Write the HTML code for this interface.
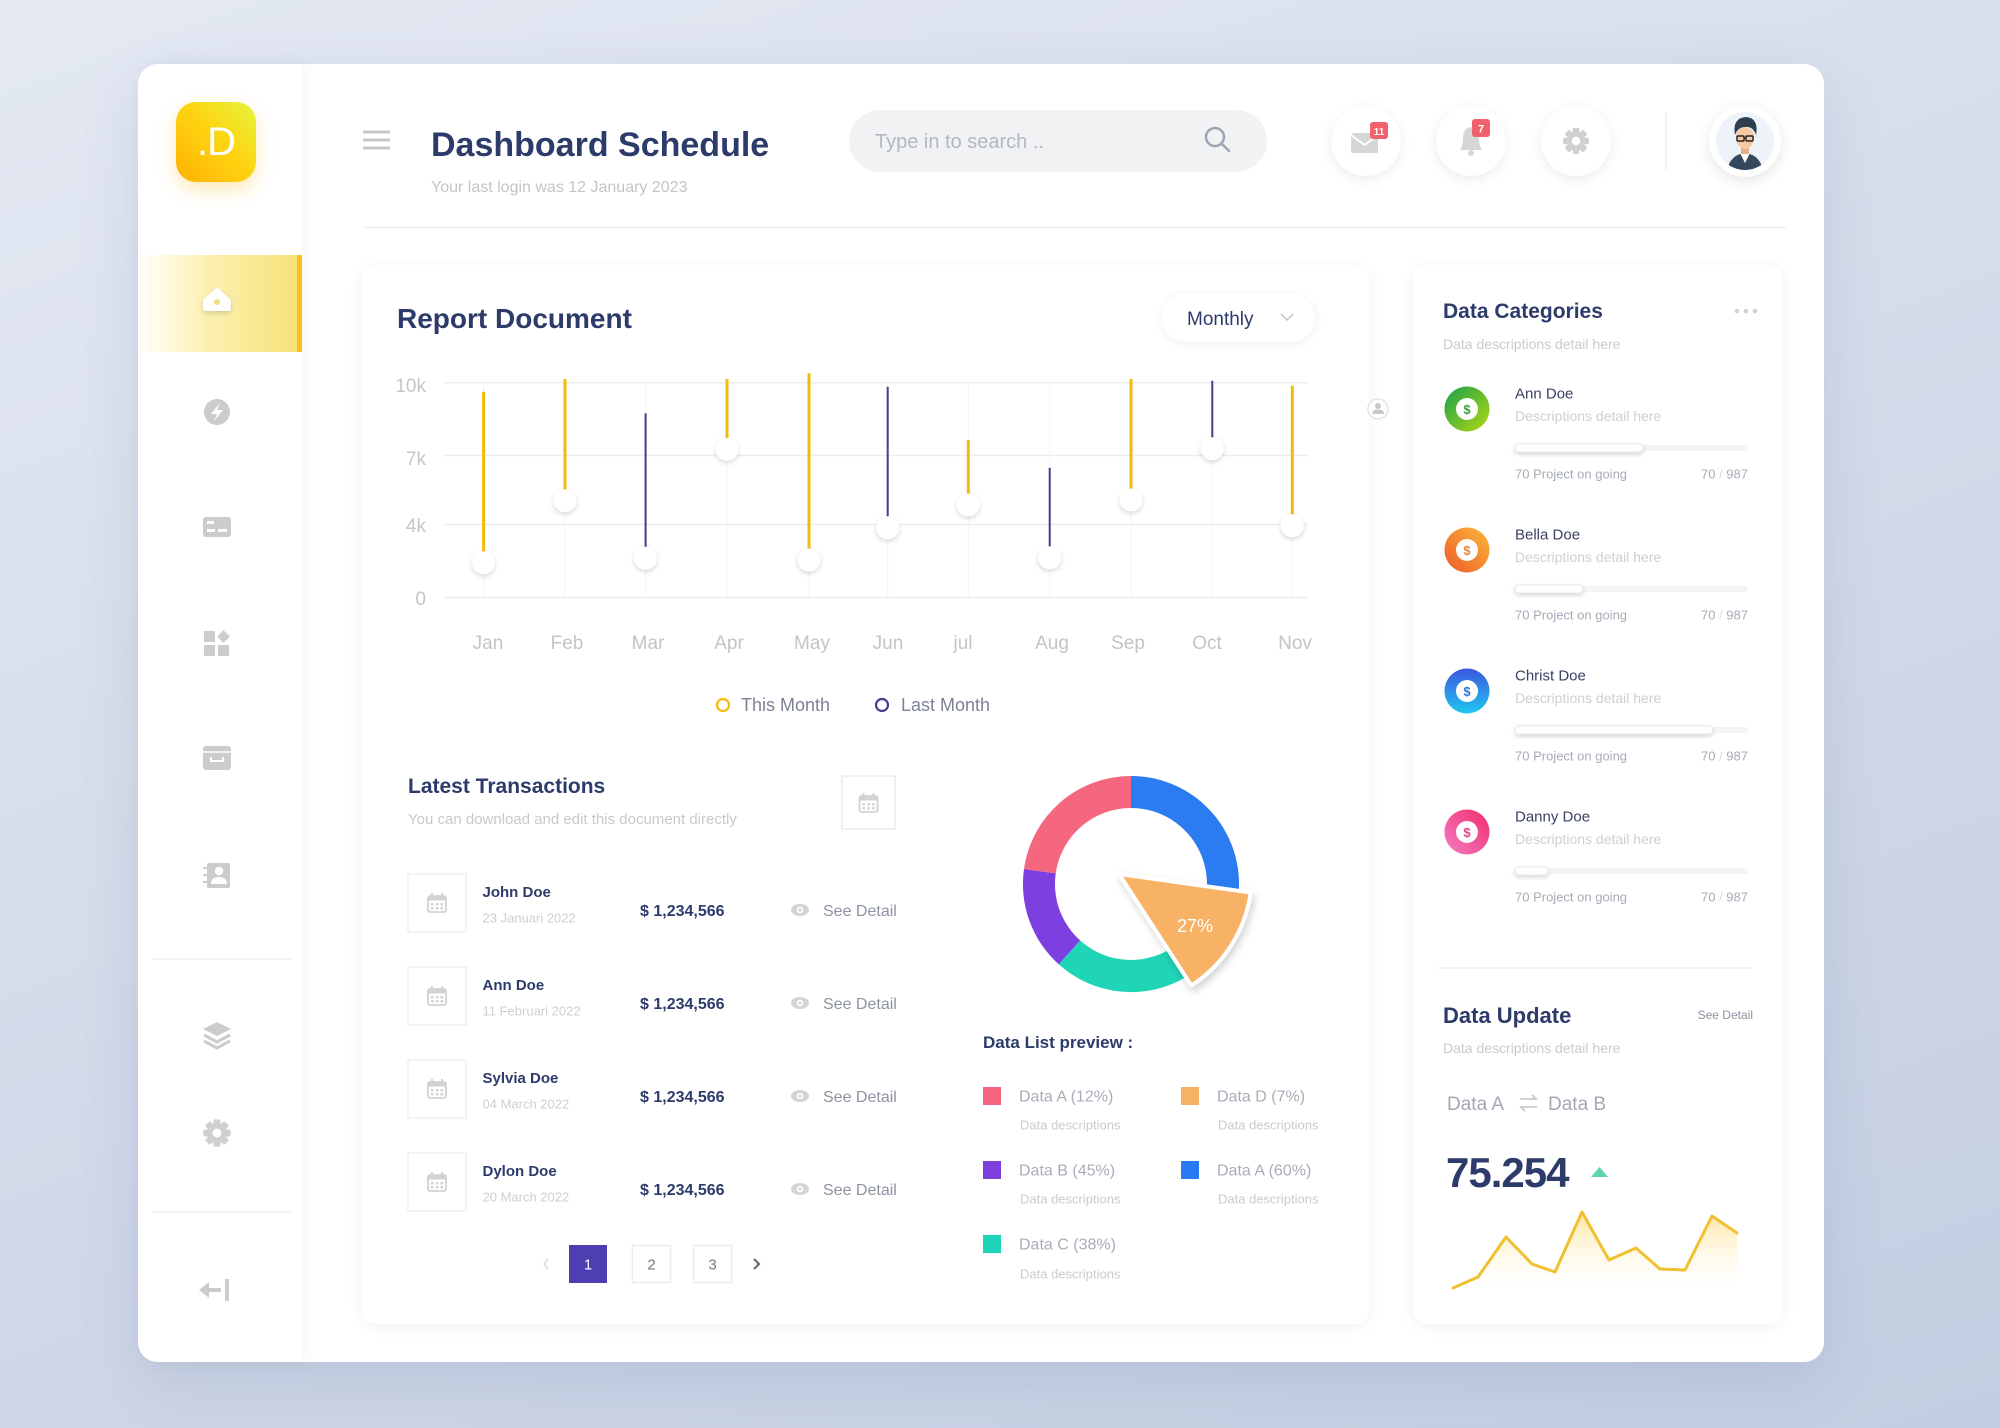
<!DOCTYPE html>
<html><head><meta charset="utf-8">
<style>
html,body{margin:0;padding:0;width:2000px;height:1428px;overflow:hidden}
body{background:linear-gradient(160deg,#e4e9f3 0%,#d5dcea 45%,#c3cee2 100%);font-family:"Liberation Sans",Arial,sans-serif;position:relative}
.a{position:absolute}
</style></head>
<body>
<div class="a" style="left:138px;top:64px;width:1686px;height:1298px;background:#fff;border-radius:20px;box-shadow:0 20px 60px rgba(70,90,140,0.14)"></div>
<div class="a" style="left:138px;top:64px;width:164px;height:1298px;background:#fff;border-radius:20px 0 0 20px;box-shadow:5px 0 18px rgba(0,0,0,0.045)"></div>
<div class="a" style="left:138px;top:255px;width:159px;height:97px;background:linear-gradient(90deg,#ffffff 0%,#fbf0b0 45%,#f7e278 100%);border-right:5px solid #f7c21c"></div>
<div class="a" style="left:176px;top:102px;width:80px;height:80px;border-radius:20px;background:linear-gradient(225deg,#e4f53c 0%,#fdd512 45%,#ffb000 100%);box-shadow:0 8px 18px rgba(250,180,0,0.28);color:#fff;font-size:40px;line-height:80px;text-align:center;letter-spacing:-1px">.D</div>
<div class="a" style="left:849px;top:110px;width:418px;height:62px;border-radius:31px;background:#f1f2f4"></div>
<div class="a" style="left:1331px;top:106px;width:70px;height:70px;border-radius:50%;background:#fff;box-shadow:0 3px 12px rgba(0,0,0,0.08)"></div>
<div class="a" style="left:1436px;top:106px;width:70px;height:70px;border-radius:50%;background:#fff;box-shadow:0 3px 12px rgba(0,0,0,0.08)"></div>
<div class="a" style="left:1541px;top:106px;width:70px;height:70px;border-radius:50%;background:#fff;box-shadow:0 3px 12px rgba(0,0,0,0.08)"></div>
<div class="a" style="left:1709px;top:105px;width:72px;height:72px;border-radius:50%;background:#fff;box-shadow:0 4px 14px rgba(0,0,0,0.1)"></div>
<div class="a" style="left:362px;top:265px;width:1007px;height:1059px;border-radius:14px;background:#fff;box-shadow:0 2px 16px rgba(0,0,0,0.06)"></div>
<div class="a" style="left:1413px;top:265px;width:370px;height:1059px;border-radius:14px;background:#fff;box-shadow:0 2px 16px rgba(0,0,0,0.06)"></div>
<div class="a" style="left:1162px;top:293px;width:153px;height:49px;border-radius:25px;background:#fff;box-shadow:0 2px 10px rgba(0,0,0,0.07)"></div>

<svg class="a" style="left:0;top:0;font-family:'Liberation Sans',Arial,sans-serif" width="2000" height="1428" viewBox="0 0 2000 1428">
<defs>
<filter id="sh" x="-60%" y="-60%" width="220%" height="220%"><feDropShadow dx="0" dy="2" stdDeviation="2.5" flood-color="#000" flood-opacity="0.16"/></filter>
<filter id="sh2" x="-30%" y="-30%" width="160%" height="160%"><feDropShadow dx="2" dy="4" stdDeviation="4" flood-color="#000" flood-opacity="0.18"/></filter>
<g id="gear"><circle r="9.5" fill="#d0d0d0"/><rect x="-3.3" y="-13" width="6.6" height="26" rx="1.5" fill="#d0d0d0"/><rect x="-3.3" y="-13" width="6.6" height="26" rx="1.5" fill="#d0d0d0" transform="rotate(45)"/><rect x="-3.3" y="-13" width="6.6" height="26" rx="1.5" fill="#d0d0d0" transform="rotate(90)"/><rect x="-3.3" y="-13" width="6.6" height="26" rx="1.5" fill="#d0d0d0" transform="rotate(135)"/><circle r="4.2" fill="#fff"/></g>
<g id="cal"><rect x="-9" y="-7" width="18" height="16" rx="2" fill="#fff" stroke="#d2d2d2" stroke-width="1.8"/><rect x="-9" y="-7" width="18" height="4.5" fill="#d2d2d2"/><line x1="-5" y1="-10" x2="-5" y2="-6" stroke="#d2d2d2" stroke-width="2"/><line x1="5" y1="-10" x2="5" y2="-6" stroke="#d2d2d2" stroke-width="2"/><g fill="#d2d2d2"><rect x="-6" y="0" width="2.5" height="2.5"/><rect x="-1.2" y="0" width="2.5" height="2.5"/><rect x="3.6" y="0" width="2.5" height="2.5"/><rect x="-6" y="4" width="2.5" height="2.5"/><rect x="-1.2" y="4" width="2.5" height="2.5"/><rect x="3.6" y="4" width="2.5" height="2.5"/></g></g>
<g id="eye"><ellipse rx="9" ry="6" fill="#d4d4d4"/><circle r="3.3" fill="#fff"/><circle r="1.6" fill="#d4d4d4"/></g>
<linearGradient id="gg" x1="0" y1="0" x2="1" y2="1"><stop offset="0" stop-color="#16a04a"/><stop offset="1" stop-color="#b6d812"/></linearGradient>
<linearGradient id="go" x1="1" y1="0" x2="0" y2="1"><stop offset="0" stop-color="#fab83a"/><stop offset="1" stop-color="#ee5a2a"/></linearGradient>
<linearGradient id="gb" x1="0.5" y1="0" x2="0.5" y2="1"><stop offset="0" stop-color="#3c56df"/><stop offset="1" stop-color="#1fc8f0"/></linearGradient>
<linearGradient id="gp" x1="1" y1="0" x2="0" y2="1"><stop offset="0" stop-color="#ee2e6c"/><stop offset="1" stop-color="#f57cc4"/></linearGradient>
<linearGradient id="gs" x1="0" y1="0" x2="0" y2="1"><stop offset="0" stop-color="#fcd360" stop-opacity="0.6"/><stop offset="1" stop-color="#fff" stop-opacity="0"/></linearGradient>
<clipPath id="avc"><circle cx="1745" cy="141" r="29"/></clipPath>
</defs>

<!-- sidebar icons -->
<path d="M203,300 L217,287 L231,300 L231,308 Q231,311 228,311 L206,311 Q203,311 203,308 Z" fill="#fff" filter="url(#sh)"/>
<circle cx="217" cy="302" r="3" fill="#f3dc7a"/>
<circle cx="217" cy="412" r="13" fill="#cccccc"/>
<polygon points="220,403 211,414 217,414 214,421 223,410 217,410" fill="#fff"/>
<rect x="203" y="517" width="28" height="20" rx="3" fill="#cccccc"/>
<rect x="207" y="521" width="7" height="3" fill="#fff"/><rect x="207" y="529" width="8" height="3" fill="#fff"/><rect x="218" y="529" width="9" height="3" fill="#fff"/>
<rect x="204" y="631" width="11" height="11" fill="#cccccc"/><rect x="204" y="645" width="11" height="11" fill="#cccccc"/><rect x="218" y="645" width="11" height="11" fill="#cccccc"/>
<rect x="219" y="632" width="9" height="9" fill="#cccccc" transform="rotate(45 223.5 636.5)"/>
<rect x="203" y="746" width="28" height="24" rx="3" fill="#cccccc"/>
<line x1="203" y1="752" x2="231" y2="752" stroke="#fff" stroke-width="1.5"/>
<polyline points="211,757 211,761 223,761 223,757" fill="none" stroke="#fff" stroke-width="2"/>
<rect x="207" y="863" width="23" height="25" rx="2" fill="#cccccc"/>
<circle cx="219" cy="871" r="4.2" fill="#fff"/><path d="M211,884 Q211,877 219,877 Q227,877 227,884 Z" fill="#fff"/>
<g stroke="#cccccc" stroke-width="2"><line x1="203" y1="868" x2="207" y2="868"/><line x1="203" y1="875" x2="207" y2="875"/><line x1="203" y1="882" x2="207" y2="882"/></g>
<line x1="153" y1="959" x2="291" y2="959" stroke="#efefef" stroke-width="1.5"/>
<polygon points="217,1022 231,1029 217,1036 203,1029" fill="#cccccc"/>
<polyline points="204,1035 217,1042 230,1035" fill="none" stroke="#cccccc" stroke-width="3"/>
<polyline points="204,1041 217,1048 230,1041" fill="none" stroke="#cccccc" stroke-width="3"/>
<use href="#gear" transform="translate(217 1133) scale(1.05)"/>
<line x1="153" y1="1212" x2="291" y2="1212" stroke="#efefef" stroke-width="1.5"/>
<polygon points="199,1290 209,1282 209,1298" fill="#cccccc"/>
<line x1="207" y1="1290" x2="221" y2="1290" stroke="#cccccc" stroke-width="4"/>
<line x1="227" y1="1279" x2="227" y2="1301" stroke="#cccccc" stroke-width="4"/>

<!-- header -->
<g stroke="#c8c8c8" stroke-width="3"><line x1="363" y1="132" x2="390" y2="132"/><line x1="363" y1="140" x2="390" y2="140"/><line x1="363" y1="148" x2="390" y2="148"/></g>
<text x="431" y="156" font-size="34" font-weight="bold" fill="#2d3b6a">Dashboard Schedule</text>
<text x="431" y="192" font-size="16" fill="#c4c4c4">Your last login was 12 January 2023</text>
<line x1="363" y1="227.5" x2="1786" y2="227.5" stroke="#eef0f4" stroke-width="1.5"/>
<text x="875" y="148" font-size="20" fill="#b3b7c3">Type in to search ..</text>
<circle cx="1215" cy="137" r="9" fill="none" stroke="#9ea4b5" stroke-width="2.5"/>
<line x1="1222" y1="144" x2="1229" y2="151" stroke="#9ea4b5" stroke-width="2.5" stroke-linecap="round"/>
<rect x="1351" y="133" width="27" height="20" rx="2" fill="#d6d6d6"/>
<polyline points="1351,135 1364.5,145 1378,135" fill="none" stroke="#fff" stroke-width="2"/>
<rect x="1370" y="122" width="18" height="17" rx="3" fill="#f0606d"/>
<text x="1379" y="135" font-size="10" font-weight="bold" fill="#fff" text-anchor="middle">11</text>
<path d="M1460,150 Q1463,146 1463,138 Q1463,128 1471,127 Q1479,128 1479,138 Q1479,146 1482,150 Z" fill="#d6d6d6"/>
<circle cx="1471" cy="153" r="3" fill="#d6d6d6"/>
<rect x="1472" y="119" width="18" height="18" rx="3" fill="#f0606d"/>
<text x="1481" y="132.5" font-size="11" font-weight="bold" fill="#fff" text-anchor="middle">7</text>
<use href="#gear" transform="translate(1576 141)"/>
<line x1="1666" y1="112" x2="1666" y2="170" stroke="#eceef2" stroke-width="1.5"/>
<circle cx="1745" cy="141" r="29" fill="#eef2f9"/>
<g clip-path="url(#avc)">
<path d="M1727,172 Q1729,155 1745,153 Q1761,155 1763,172 Z" fill="#34495e"/>
<polygon points="1740,153 1750,153 1745,163" fill="#fff"/>
<rect x="1741" y="147" width="8" height="7" fill="#e8b086"/>
<ellipse cx="1745" cy="138" rx="9" ry="11" fill="#f6c9a0"/>
<path d="M1735,135 Q1732,118 1746,117 Q1759,118 1756,135 Q1753,126 1745,127 Q1738,127 1735,135 Z" fill="#2c3e50"/>
<rect x="1737" y="136" width="7" height="5" rx="1" fill="none" stroke="#222" stroke-width="1.4"/>
<rect x="1746" y="136" width="7" height="5" rx="1" fill="none" stroke="#222" stroke-width="1.4"/>
<line x1="1744" y1="138" x2="1746" y2="138" stroke="#222" stroke-width="1.2"/>
</g>

<!-- report card -->
<text x="397" y="328" font-size="28" font-weight="bold" fill="#2d3b6a">Report Document</text>
<text x="1187" y="325" font-size="19" fill="#2d3b6a">Monthly</text>
<polyline points="1281,314 1287,320 1293,314" fill="none" stroke="#c4c4c4" stroke-width="1.5"/>
<circle cx="1378" cy="409" r="10" fill="#fff" stroke="#e4e4e4" stroke-width="1.5"/>
<circle cx="1378" cy="406" r="3" fill="#c8c8c8"/><path d="M1372,414 Q1372,409.5 1378,409.5 Q1384,409.5 1384,414 Z" fill="#c8c8c8"/>

<g stroke="#ededed" stroke-width="1.5">
<line x1="444" y1="382.7" x2="1308" y2="382.7"/><line x1="444" y1="455.5" x2="1308" y2="455.5"/><line x1="444" y1="524.5" x2="1308" y2="524.5"/><line x1="444" y1="597.5" x2="1308" y2="597.5"/>
</g>
<g stroke="#f3f3f3" stroke-width="1">
<line x1="483.6" y1="382" x2="483.6" y2="597"/><line x1="565" y1="382" x2="565" y2="597"/><line x1="645.6" y1="382" x2="645.6" y2="597"/><line x1="727" y1="382" x2="727" y2="597"/><line x1="809" y1="382" x2="809" y2="597"/><line x1="887.7" y1="382" x2="887.7" y2="597"/><line x1="968.3" y1="382" x2="968.3" y2="597"/><line x1="1049.7" y1="382" x2="1049.7" y2="597"/><line x1="1131" y1="382" x2="1131" y2="597"/><line x1="1212.3" y1="382" x2="1212.3" y2="597"/><line x1="1292.3" y1="382" x2="1292.3" y2="597"/>
</g>
<g font-size="19" fill="#c6c6c6" text-anchor="end">
<text x="426" y="392">10k</text><text x="426" y="465">7k</text><text x="426" y="532">4k</text><text x="426" y="605">0</text>
</g>
<g stroke-width="3" stroke="#f5b90b">
<line x1="483.6" y1="391.7" x2="483.6" y2="562.7"/>
<line x1="565" y1="379" x2="565" y2="500.7"/>
<line x1="727" y1="379" x2="727" y2="449.3"/>
<line x1="809" y1="373.3" x2="809" y2="560"/>
<line x1="968.3" y1="440" x2="968.3" y2="505"/>
<line x1="1131" y1="379" x2="1131" y2="500"/>
<line x1="1292.3" y1="385.7" x2="1292.3" y2="525.7"/>
</g>
<g stroke-width="2" stroke="#433d8f">
<line x1="645.6" y1="413.3" x2="645.6" y2="558.3"/>
<line x1="887.7" y1="386.7" x2="887.7" y2="527.7"/>
<line x1="1049.7" y1="467.7" x2="1049.7" y2="557.7"/>
<line x1="1212.3" y1="380.7" x2="1212.3" y2="448.7"/>
</g>
<g fill="#fff" filter="url(#sh)">
<circle cx="483.6" cy="562.7" r="11.5"/><circle cx="565" cy="500.7" r="11.5"/><circle cx="645.6" cy="558.3" r="11.5"/><circle cx="727" cy="449.3" r="11.5"/><circle cx="809" cy="560" r="11.5"/><circle cx="887.7" cy="527.7" r="11.5"/><circle cx="968.3" cy="505" r="11.5"/><circle cx="1049.7" cy="557.7" r="11.5"/><circle cx="1131" cy="500" r="11.5"/><circle cx="1212.3" cy="448.7" r="11.5"/><circle cx="1292.3" cy="525.7" r="11.5"/>
</g>
<g font-size="19" fill="#c4c4c4" text-anchor="middle">
<text x="488" y="649">Jan</text><text x="567" y="649">Feb</text><text x="648" y="649">Mar</text><text x="729" y="649">Apr</text><text x="812" y="649">May</text><text x="888" y="649">Jun</text><text x="963" y="649">jul</text><text x="1052" y="649">Aug</text><text x="1128" y="649">Sep</text><text x="1207" y="649">Oct</text><text x="1295" y="649">Nov</text>
</g>
<circle cx="723" cy="705" r="6" fill="none" stroke="#f5b90b" stroke-width="2.2"/>
<text x="741" y="711" font-size="18" fill="#7d8294">This Month</text>
<circle cx="882" cy="705" r="6" fill="none" stroke="#433d8f" stroke-width="2.2"/>
<text x="901" y="711" font-size="18" fill="#7d8294">Last Month</text>

<!-- transactions -->
<text x="408" y="793" font-size="21" font-weight="bold" fill="#2d3b6a">Latest Transactions</text>
<text x="408" y="824" font-size="15" fill="#c9c9c9">You can download and edit this document directly</text>
<rect x="842" y="776" width="53" height="53" fill="#fff" stroke="#ececec" stroke-width="1.5"/>
<use href="#cal" transform="translate(868.5 803)"/>

<g>
<rect x="408" y="874" width="58" height="58" fill="#fff" stroke="#efefef" stroke-width="1.5"/><use href="#cal" transform="translate(437 903)"/>
<text x="482.5" y="897" font-size="15" font-weight="bold" fill="#2d3b6a">John Doe</text>
<text x="482.5" y="922.5" font-size="13" fill="#cfcfcf">23 Januari 2022</text>
<text x="640" y="916" font-size="16" font-weight="bold" fill="#2d3b6a">$ 1,234,566</text>
<use href="#eye" transform="translate(800 910)"/>
<text x="823" y="916" font-size="16" fill="#8e93a1">See Detail</text>
</g>
<g>
<rect x="408" y="967" width="58" height="58" fill="#fff" stroke="#efefef" stroke-width="1.5"/><use href="#cal" transform="translate(437 996)"/>
<text x="482.5" y="990" font-size="15" font-weight="bold" fill="#2d3b6a">Ann Doe</text>
<text x="482.5" y="1015.5" font-size="13" fill="#cfcfcf">11 Februari 2022</text>
<text x="640" y="1009" font-size="16" font-weight="bold" fill="#2d3b6a">$ 1,234,566</text>
<use href="#eye" transform="translate(800 1003)"/>
<text x="823" y="1009" font-size="16" fill="#8e93a1">See Detail</text>
</g>
<g>
<rect x="408" y="1060" width="58" height="58" fill="#fff" stroke="#efefef" stroke-width="1.5"/><use href="#cal" transform="translate(437 1089)"/>
<text x="482.5" y="1083" font-size="15" font-weight="bold" fill="#2d3b6a">Sylvia Doe</text>
<text x="482.5" y="1108.5" font-size="13" fill="#cfcfcf">04 March 2022</text>
<text x="640" y="1102" font-size="16" font-weight="bold" fill="#2d3b6a">$ 1,234,566</text>
<use href="#eye" transform="translate(800 1096)"/>
<text x="823" y="1102" font-size="16" fill="#8e93a1">See Detail</text>
</g>
<g>
<rect x="408" y="1153" width="58" height="58" fill="#fff" stroke="#efefef" stroke-width="1.5"/><use href="#cal" transform="translate(437 1182)"/>
<text x="482.5" y="1176" font-size="15" font-weight="bold" fill="#2d3b6a">Dylon Doe</text>
<text x="482.5" y="1201.5" font-size="13" fill="#cfcfcf">20 March 2022</text>
<text x="640" y="1195" font-size="16" font-weight="bold" fill="#2d3b6a">$ 1,234,566</text>
<use href="#eye" transform="translate(800 1189)"/>
<text x="823" y="1195" font-size="16" fill="#8e93a1">See Detail</text>
</g>
<polyline points="548,1259 544,1264 548,1269" fill="none" stroke="#e4e4e4" stroke-width="2"/>
<rect x="569" y="1245" width="38" height="38" fill="#4e3eb3"/>
<text x="588" y="1269.5" font-size="15" fill="#fff" text-anchor="middle">1</text>
<rect x="632.5" y="1245.5" width="38" height="37" fill="#fff" stroke="#ececec" stroke-width="1.5"/>
<text x="651.5" y="1269.5" font-size="15" fill="#777" text-anchor="middle">2</text>
<rect x="693.5" y="1245.5" width="38" height="37" fill="#fff" stroke="#ececec" stroke-width="1.5"/>
<text x="712.5" y="1269.5" font-size="15" fill="#777" text-anchor="middle">3</text>
<polyline points="754,1259 759,1264 754,1269" fill="none" stroke="#666" stroke-width="2"/>

<!-- donut -->
<path d="M1131,776 A108,108 0 0 1 1237.4,902.7 L1205.8,897.2 A76,76 0 0 0 1131,808 Z" fill="#2a7cf0"/>
<path d="M1237.4,902.7 A108,108 0 0 1 1058.7,964.3 L1080.2,940.5 A76,76 0 0 0 1205.8,897.2 Z" fill="#1fd5b6"/>
<path d="M1058.7,964.3 A108,108 0 0 1 1024,869 L1055.7,873.4 A76,76 0 0 0 1080.2,940.5 Z" fill="#7d3fe0"/>
<path d="M1024,869 A108,108 0 0 1 1131,776 L1131,808 A76,76 0 0 0 1055.7,873.4 Z" fill="#f5667f"/>
<path d="M1119,874 L1250.7,892.5 A133,133 0 0 1 1191.4,985.5 Z" fill="#f7b266" stroke="#fff" stroke-width="4" stroke-linejoin="round" filter="url(#sh2)"/>
<text x="1195" y="932" font-size="18" fill="#fff" text-anchor="middle">27%</text>

<text x="983" y="1048" font-size="17" font-weight="bold" fill="#2d3b6a">Data List preview :</text>
<rect x="983" y="1087" width="18" height="18" fill="#f5637e"/>
<text x="1019" y="1101.5" font-size="16" fill="#a8adb8">Data A (12%)</text>
<text x="1020" y="1129.5" font-size="13" fill="#cbcbcb">Data descriptions</text>
<rect x="983" y="1161" width="18" height="18" fill="#7c3fdc"/>
<text x="1019" y="1175.5" font-size="16" fill="#a8adb8">Data B (45%)</text>
<text x="1020" y="1203.5" font-size="13" fill="#cbcbcb">Data descriptions</text>
<rect x="983" y="1235" width="18" height="18" fill="#1ed5b8"/>
<text x="1019" y="1249.5" font-size="16" fill="#a8adb8">Data C (38%)</text>
<text x="1020" y="1278.5" font-size="13" fill="#cbcbcb">Data descriptions</text>
<rect x="1181" y="1087" width="18" height="18" fill="#f7b162"/>
<text x="1217" y="1101.5" font-size="16" fill="#a8adb8">Data D (7%)</text>
<text x="1218" y="1129.5" font-size="13" fill="#cbcbcb">Data descriptions</text>
<rect x="1181" y="1161" width="18" height="18" fill="#2979f2"/>
<text x="1217" y="1175.5" font-size="16" fill="#a8adb8">Data A (60%)</text>
<text x="1218" y="1203.5" font-size="13" fill="#cbcbcb">Data descriptions</text>

<!-- right panel -->
<text x="1443" y="318" font-size="21" font-weight="bold" fill="#2d3b6a">Data Categories</text>
<text x="1443" y="349" font-size="14" fill="#cacaca">Data descriptions detail here</text>
<g fill="#d2d2d2"><circle cx="1737" cy="311" r="2.3"/><circle cx="1746" cy="311" r="2.3"/><circle cx="1755" cy="311" r="2.3"/></g>

<g>
<circle cx="1467" cy="409" r="22.5" fill="url(#gg)"/><circle cx="1467" cy="409" r="11" fill="#fff"/>
<text x="1467" y="414" font-size="13" font-weight="bold" fill="#3aa53a" text-anchor="middle">$</text>
<text x="1515" y="398.5" font-size="15" fill="#3a4264">Ann Doe</text>
<text x="1515" y="421" font-size="14" fill="#cfcfcf">Descriptions detail here</text>
<rect x="1515" y="445" width="233" height="6" rx="3" fill="#f3f4f6"/>
<rect x="1515" y="444" width="128" height="8" rx="4" fill="#fff" stroke="#e8e8e8" stroke-width="1" filter="url(#sh)"/>
<text x="1515" y="478.5" font-size="13" fill="#a6abb6">70 Project on going</text>
<text x="1748" y="478.5" font-size="13" fill="#a6abb6" text-anchor="end">70 <tspan fill="#dcdcdc">/</tspan> 987</text>
</g>
<g>
<circle cx="1467" cy="550" r="22.5" fill="url(#go)"/><circle cx="1467" cy="550" r="11" fill="#fff"/>
<text x="1467" y="555" font-size="13" font-weight="bold" fill="#e8863a" text-anchor="middle">$</text>
<text x="1515" y="539.5" font-size="15" fill="#3a4264">Bella Doe</text>
<text x="1515" y="562" font-size="14" fill="#cfcfcf">Descriptions detail here</text>
<rect x="1515" y="586" width="233" height="6" rx="3" fill="#f3f4f6"/>
<rect x="1515" y="585" width="68" height="8" rx="4" fill="#fff" stroke="#e8e8e8" stroke-width="1" filter="url(#sh)"/>
<text x="1515" y="619.5" font-size="13" fill="#a6abb6">70 Project on going</text>
<text x="1748" y="619.5" font-size="13" fill="#a6abb6" text-anchor="end">70 <tspan fill="#dcdcdc">/</tspan> 987</text>
</g>
<g>
<circle cx="1467" cy="691" r="22.5" fill="url(#gb)"/><circle cx="1467" cy="691" r="11" fill="#fff"/>
<text x="1467" y="696" font-size="13" font-weight="bold" fill="#2f77d8" text-anchor="middle">$</text>
<text x="1515" y="680.5" font-size="15" fill="#3a4264">Christ Doe</text>
<text x="1515" y="703" font-size="14" fill="#cfcfcf">Descriptions detail here</text>
<rect x="1515" y="727" width="233" height="6" rx="3" fill="#f3f4f6"/>
<rect x="1515" y="726" width="198" height="8" rx="4" fill="#fff" stroke="#e8e8e8" stroke-width="1" filter="url(#sh)"/>
<text x="1515" y="760.5" font-size="13" fill="#a6abb6">70 Project on going</text>
<text x="1748" y="760.5" font-size="13" fill="#a6abb6" text-anchor="end">70 <tspan fill="#dcdcdc">/</tspan> 987</text>
</g>
<g>
<circle cx="1467" cy="832" r="22.5" fill="url(#gp)"/><circle cx="1467" cy="832" r="11" fill="#fff"/>
<text x="1467" y="837" font-size="13" font-weight="bold" fill="#e4407f" text-anchor="middle">$</text>
<text x="1515" y="821.5" font-size="15" fill="#3a4264">Danny Doe</text>
<text x="1515" y="844" font-size="14" fill="#cfcfcf">Descriptions detail here</text>
<rect x="1515" y="868" width="233" height="6" rx="3" fill="#f3f4f6"/>
<rect x="1515" y="867" width="33" height="8" rx="4" fill="#fff" stroke="#e8e8e8" stroke-width="1" filter="url(#sh)"/>
<text x="1515" y="901.5" font-size="13" fill="#a6abb6">70 Project on going</text>
<text x="1748" y="901.5" font-size="13" fill="#a6abb6" text-anchor="end">70 <tspan fill="#dcdcdc">/</tspan> 987</text>
</g>

<line x1="1438" y1="968" x2="1753" y2="968" stroke="#efefef" stroke-width="1.5"/>
<text x="1443" y="1023" font-size="22" font-weight="bold" fill="#2d3b6a">Data Update</text>
<text x="1753" y="1019" font-size="12" fill="#8d92a0" text-anchor="end">See Detail</text>
<text x="1443" y="1053" font-size="14" fill="#cacaca">Data descriptions detail here</text>
<text x="1447" y="1110" font-size="19" fill="#a3a8b4">Data A</text>
<g stroke="#c9c9c9" stroke-width="1.8" fill="none">
<polyline points="1520,1099 1536,1099 1532,1095"/>
<polyline points="1537,1107 1521,1107 1525,1111"/>
</g>
<text x="1548" y="1110" font-size="19" fill="#a3a8b4">Data B</text>
<text x="1446" y="1187" font-size="42" font-weight="bold" fill="#2d3b6a" letter-spacing="-1">75.254</text>
<polygon points="1591,1177 1608,1177 1599.5,1167" fill="#5fd4a8"/>
<path d="M1453,1288 L1478,1277 L1506,1237 L1532,1264 L1555,1272 L1582,1212 L1609,1260 L1636,1248 L1660,1269 L1685,1270 L1712,1216 L1737,1233 L1737,1296 L1453,1296 Z" fill="url(#gs)"/>
<polyline points="1453,1288 1478,1277 1506,1237 1532,1264 1555,1272 1582,1212 1609,1260 1636,1248 1660,1269 1685,1270 1712,1216 1737,1233" fill="none" stroke="#f0c030" stroke-width="3" stroke-linejoin="round" stroke-linecap="round"/>
</svg>
</body></html>
